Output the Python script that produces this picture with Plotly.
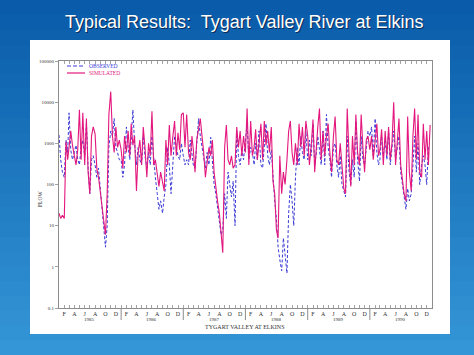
import plotly.graph_objects as go
import pandas as pd

# ---------------- data ----------------
YEARS = [1985, 1986, 1987, 1988, 1989, 1990]
SAMPLE_DAYS = [1, 11, 21]
MONTH_LETTERS = ["J", "F", "M", "A", "M", "J", "J", "A", "S", "O", "N", "D"]
Y_TICKS = [0.1, 1, 10, 100, 1000, 10000, 100000]
Y_TICK_TEXT = ["0.1", "1", "10", "100", "1000", "10000", "100000"]

obs_1985 = [1600, 400, 200, 150, 1200, 600, 5500, 700, 400, 600, 900, 400,
            300, 800, 1200, 500, 3000, 250, 60, 400, 500, 300, 150, 250,
            80, 25, 8, 3, 10, 800, 2000, 1500, 4000, 800, 600, 400]
sim_1985 = [20, 15, 18, 15, 1100, 400, 800, 2000, 900, 500, 300, 700,
            6500, 400, 5500, 300, 4000, 200, 60, 1500, 2500, 1700, 250, 150,
            60, 30, 12, 6, 60, 5000, 18000, 1500, 600, 2500, 800, 1200]

obs_1986 = [400, 150, 300, 2500, 800, 400, 1200, 6500, 1000, 300, 800, 400,
            300, 1500, 500, 250, 600, 300, 1500, 400, 150, 60, 25, 40,
            20, 50, 100, 800, 300, 60, 400, 1500, 800, 500, 400, 1000]
sim_1986 = [700, 250, 1500, 600, 2000, 500, 3000, 900, 1500, 70, 600, 1200,
            300, 2500, 800, 150, 1000, 500, 6000, 300, 400, 150, 90, 200,
            100, 70, 1200, 300, 2800, 500, 1500, 3500, 500, 1800, 700, 5000]

obs_1987 = [500, 300, 400, 300, 1200, 600, 300, 250, 800, 4000, 1500, 800,
            400, 250, 600, 300, 1400, 300, 100, 60, 30, 12, 6, 8,
            60, 15, 200, 100, 50, 120, 10, 2000, 500, 300, 700, 400]
sim_1987 = [5500, 800, 5000, 600, 400, 1500, 700, 200, 1200, 2500, 4000, 1500,
            600, 150, 300, 800, 500, 1200, 200, 80, 40, 20, 5, 2.2,
            800, 2800, 400, 300, 500, 250, 300, 2500, 800, 2000, 500, 1500]

obs_1988 = [1500, 3000, 400, 800, 600, 300, 1000, 400, 2000, 300, 250, 1200,
            3000, 500, 300, 700, 150, 40, 15, 3, 1.5, 0.8, 5, 2,
            0.7, 20, 100, 40, 10, 150, 800, 300, 1500, 600, 400, 2000]
sim_1988 = [600, 7000, 300, 3500, 500, 800, 2200, 400, 1000, 3000, 400, 3500,
            900, 2000, 600, 2500, 120, 60, 8, 5, 500, 60, 200, 100,
            400, 2000, 3500, 600, 300, 1000, 300, 3000, 800, 2500, 500, 3500]

obs_1989 = [400, 1200, 500, 3000, 300, 600, 1500, 700, 300, 2000, 300, 5000,
            800, 400, 150, 800, 1000, 300, 150, 500, 100, 70, 50, 1500,
            200, 100, 400, 150, 3500, 400, 120, 1500, 400, 300, 800, 2000]
sim_1989 = [1500, 300, 800, 3800, 200, 1000, 2500, 7000, 400, 2000, 500, 1500,
            3000, 600, 200, 1500, 4500, 400, 300, 1000, 300, 80, 60, 7000,
            500, 90, 1500, 300, 5000, 600, 300, 5000, 800, 200, 1200, 1500]

obs_1990 = [1500, 2500, 500, 4000, 600, 300, 400, 1500, 500, 1200, 400, 2000,
            300, 900, 2000, 400, 800, 1500, 200, 100, 40, 25, 80, 40,
            60, 400, 1500, 200, 1000, 100, 300, 500, 300, 100, 800, 800]
sim_1990 = [700, 1500, 400, 1500, 3000, 500, 700, 2200, 300, 2000, 500, 2500,
            400, 1000, 10000, 300, 1500, 4000, 300, 120, 60, 40, 4500, 200,
            70, 1500, 7000, 400, 5000, 200, 150, 3000, 400, 2000, 300, 2800]

OBSERVED = obs_1985 + obs_1986 + obs_1987 + obs_1988 + obs_1989 + obs_1990
SIMULATED = sim_1985 + sim_1986 + sim_1987 + sim_1988 + sim_1989 + sim_1990
DATES = [pd.Timestamp(y, m, d) for y in YEARS for m in range(1, 13) for d in SAMPLE_DAYS]

# ---------------- layout geometry ----------------
W, H = 474, 355
L, R, T, B = 59, 432, 61, 308


def px_x(px):
    return (px - L) / (R - L)


def px_y(py):
    return (B - py) / (B - T)


OBS_COLOR = "#3a3ad6"
SIM_COLOR = "#e3177e"
SERIF = "Liberation Serif"
AXIS_COLOR = "#8c8c8c"
TEXT_COLOR = "#333333"

fig = go.Figure()
fig.add_trace(go.Scatter(x=DATES, y=OBSERVED, mode="lines", name="OBSERVED",
                         line=dict(color=OBS_COLOR, width=1, dash="3px,2px")))
fig.add_trace(go.Scatter(x=DATES, y=SIMULATED, mode="lines", name="SIMULATED",
                         line=dict(color=SIM_COLOR, width=1.1)))

month_ticks = [pd.Timestamp(y, m, 1) for y in YEARS for m in range(1, 13)]
month_text = [MONTH_LETTERS[t.month - 1] if t.month % 2 == 0 else "\u00a0" for t in month_ticks]

shapes = []
# slide background gradient bands
n_bands = 24
top_c = (10, 92, 170)
bot_c = (52, 150, 214)
for k in range(n_bands):
    f = k / (n_bands - 1)
    c = tuple(int(top_c[i] + (bot_c[i] - top_c[i]) * f) for i in range(3))
    y0 = k * H / n_bands
    y1 = (k + 1) * H / n_bands + 1
    shapes.append(dict(type="rect", xref="paper", yref="paper", layer="below",
                       x0=px_x(0), x1=px_x(W), y0=px_y(y1), y1=px_y(y0),
                       fillcolor="rgb(%d,%d,%d)" % c, line=dict(width=0)))
# white chart panel
shapes.append(dict(type="rect", xref="paper", yref="paper", layer="below",
                   x0=px_x(30), x1=px_x(450), y0=px_y(334), y1=px_y(40),
                   fillcolor="white", line=dict(width=0)))
# year separators below the axis
for y in YEARS[1:]:
    shapes.append(dict(type="line", xref="x", yref="paper",
                       x0=pd.Timestamp(y, 1, 1), x1=pd.Timestamp(y, 1, 1),
                       y0=0, y1=px_y(320), line=dict(color=AXIS_COLOR, width=1)))
# legend samples
shapes.append(dict(type="line", xref="paper", yref="paper",
                   x0=px_x(67), x1=px_x(85), y0=px_y(66), y1=px_y(66),
                   line=dict(color=OBS_COLOR, width=1, dash="4px,2px")))
shapes.append(dict(type="line", xref="paper", yref="paper",
                   x0=px_x(67), x1=px_x(85), y0=px_y(73), y1=px_y(73),
                   line=dict(color=SIM_COLOR, width=1.2)))

annotations = []
title = "Typical Results:\u00a0 Tygart Valley River at Elkins"


def ann(text, x, y, size, color, family=SERIF, xanchor="center", **kw):
    d = dict(text=text, xref="paper", yref="paper", x=x, y=y, showarrow=False,
             xanchor=xanchor, yanchor="middle",
             font=dict(family=family, size=size, color=color))
    d.update(kw)
    annotations.append(d)


ann(title, px_x(245), px_y(22.5), 18, "#0b2a55", family="Liberation Sans")
ann(title, px_x(244), px_y(21.5), 18, "white", family="Liberation Sans")
for y in YEARS:
    annotations.append(dict(text=str(y), xref="x", yref="paper",
                            x=pd.Timestamp(y, 7, 1), y=px_y(319), showarrow=False,
                            xanchor="center", yanchor="middle",
                            font=dict(family=SERIF, size=5, color=TEXT_COLOR)))
ann("TYGART VALLEY AT ELKINS", px_x(244), px_y(327), 6, TEXT_COLOR)
ann("FLOW", px_x(40), px_y(199), 5.5, TEXT_COLOR, textangle=-90)
ann("OBSERVED", px_x(86.5), px_y(66), 5.5, OBS_COLOR, xanchor="left")
ann("SIMULATED", px_x(86.5), px_y(73), 5.5, SIM_COLOR, xanchor="left")

fig.update_layout(
    width=W, height=H,
    margin=dict(l=L, r=W - R, t=T, b=H - B, pad=0),
    paper_bgcolor="rgb(10,92,170)",
    plot_bgcolor="rgba(0,0,0,0)",
    showlegend=False,
    hovermode=False,
    shapes=shapes,
    annotations=annotations,
    xaxis=dict(type="date", range=[pd.Timestamp(1985, 1, 1), pd.Timestamp(1991, 1, 1)],
               tickmode="array", tickvals=month_ticks, ticktext=month_text,
               ticks="inside", ticklen=3, tickwidth=0.8, tickcolor=AXIS_COLOR,
               showline=True, linecolor=AXIS_COLOR, linewidth=1, mirror="ticks",
               showgrid=False, zeroline=False, tickangle=0, automargin=False,
               tickfont=dict(family=SERIF, size=6, color=TEXT_COLOR)),
    yaxis=dict(type="log", range=[-1, 5], tickmode="array",
               tickvals=Y_TICKS, ticktext=Y_TICK_TEXT, automargin=False,
               ticks="outside", ticklen=3, tickwidth=0.8, tickcolor=AXIS_COLOR,
               showline=True, linecolor=AXIS_COLOR, linewidth=1, mirror=True,
               showgrid=False, zeroline=False,
               tickfont=dict(family=SERIF, size=5, color=TEXT_COLOR)),
)

fig.write_html("out.html",
               config={"displayModeBar": False, "staticPlot": True},
               post_script="document.body.style.margin='0';document.body.style.overflow='hidden';")
